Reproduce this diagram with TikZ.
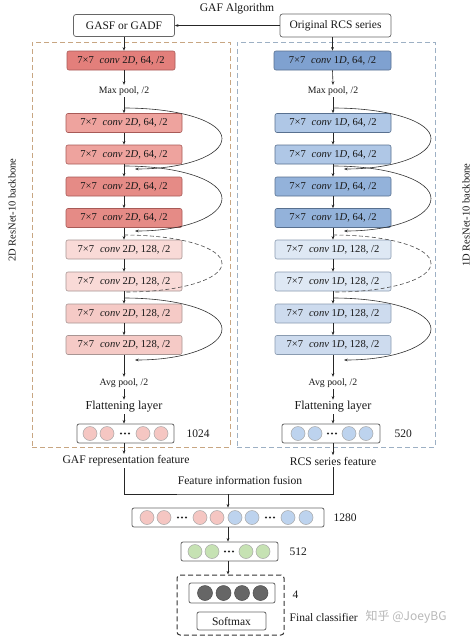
\documentclass[tikz,border=0pt]{standalone}
\usepackage{fontspec}
\setmainfont{Liberation Serif}
\newfontfamily\cjkfont{Noto Sans CJK SC}
\usetikzlibrary{arrows.meta}
\definecolor{lcA}{HTML}{E37F7B}
\definecolor{lcB}{HTML}{EEA39E}
\definecolor{lcC}{HTML}{E58B86}
\definecolor{lcD}{HTML}{F9DAD7}
\definecolor{lcE}{HTML}{F5CAC6}
\definecolor{ldraw}{HTML}{A85A57}
\definecolor{ldrawl}{HTML}{A89593}
\definecolor{rcA}{HTML}{7FA1D0}
\definecolor{rcB}{HTML}{AFC7E6}
\definecolor{rcC}{HTML}{93B2DA}
\definecolor{rcD}{HTML}{DEE8F4}
\definecolor{rcE}{HTML}{CDDBEE}
\definecolor{rdraw}{HTML}{58708F}
\definecolor{rdrawl}{HTML}{8A9BB0}
\definecolor{pinkc}{HTML}{F5C6C2}
\definecolor{bluec}{HTML}{BDD3EE}
\definecolor{greenc}{HTML}{C6E2B3}
\definecolor{darkc}{HTML}{666666}
\definecolor{lframec}{HTML}{C8A682}
\definecolor{rframec}{HTML}{9DB0C4}
\newcommand{\cvt}[3]{7×7\hspace{0.55em}\textit{conv}\space#1\textit{D}, #2, /2}
\begin{document}
\begin{tikzpicture}[x=1pt,y=-1pt,
  every node/.style={font=\fontsize{11.6}{13}\selectfont, inner sep=1.5pt, text=black!90},
  arr/.style={-{Stealth[length=3.6pt,width=2.8pt]}, line width=0.6pt, draw=black!85},
  skipline/.style={-{Stealth[length=3.6pt,width=2.8pt]}, line width=0.6pt, draw=black!80},
  dskip/.style={line width=0.6pt, draw=black!70, dash pattern=on 4pt off 2.5pt},
  wbox/.style={draw=black!60, line width=0.7pt, rounded corners=2.5pt, fill=white, font=\fontsize{11.5}{13}\selectfont, inner sep=0pt},
  cbox/.style={draw, line width=0.6pt, rounded corners=2pt, minimum width=116pt, minimum height=19pt, inner sep=0pt, font=\fontsize{10.6}{12}\selectfont},
  smalltxt/.style={font=\fontsize{9.8}{11}\selectfont},
  frame/.style={draw, line width=0.9pt, dash pattern=on 5pt off 3pt, minimum width=198pt, minimum height=405pt, inner sep=0pt},
  vbox/.style={draw=black!60, line width=0.8pt, rounded corners=2pt, minimum height=19pt, inner sep=0pt},
  cir/.style={circle, draw, line width=0.5pt, minimum size=14pt, inner sep=0pt},
  numtxt/.style={anchor=west, font=\fontsize{11.5}{13}\selectfont}
]
\fill[white] (0,0) rectangle (474,641);
\useasboundingbox (0,0) rectangle (474,641);

% frames
\node[frame, draw=lframec] (lframe) at (131,244.5) {};
\node[frame, draw=rframec] (rframe) at (336,244.5) {};
\node[rotate=90] (llab) at (12,210) {\fontsize{10.5}{12}\selectfont 2D ResNet-10 backbone};
\node[rotate=90] (rlab) at (466,215) {\fontsize{10.5}{12}\selectfont 1D ResNet-10 backbone};

% top
\node (gaft) at (237,9) {GAF Algorithm};
\node[wbox, minimum width=101pt, minimum height=22pt] (gasf) at (124,25.5) {GASF or GADF};
\node[wbox, minimum width=111pt, minimum height=23pt] (orig) at (335.5,25.5) {Original RCS series};
\draw[arr] (orig) -- (gasf);

% left column
\node[cbox, fill=lcA, draw=ldraw, minimum width=108pt] (L0) at (121,60.5) {\cvt{2}{64}{}};
\node[smalltxt] (lmp) at (124,91) {Max pool, /2};
\node[cbox, fill=lcB, draw=ldraw] (L1) at (124,123) {\cvt{2}{64}{}};
\node[cbox, fill=lcB, draw=ldraw] (L2) at (124,154.5) {\cvt{2}{64}{}};
\node[cbox, fill=lcC, draw=ldraw] (L3) at (124,186.5) {\cvt{2}{64}{}};
\node[cbox, fill=lcC, draw=ldraw] (L4) at (124,218) {\cvt{2}{64}{}};
\node[cbox, fill=lcD, draw=ldrawl] (L5) at (124,249.5) {\cvt{2}{128}{}};
\node[cbox, fill=lcD, draw=ldrawl] (L6) at (124,281.5) {\cvt{2}{128}{}};
\node[cbox, fill=lcE, draw=ldrawl] (L7) at (124,313.5) {\cvt{2}{128}{}};
\node[cbox, fill=lcE, draw=ldrawl] (L8) at (124,345) {\cvt{2}{128}{}};
\node[smalltxt] (lap) at (124,383) {Avg pool, /2};
\node[font=\fontsize{12.2}{14}\selectfont] (lfl) at (124,407) {Flattening layer};
\node[vbox, minimum width=97pt] (lvec) at (125.5,433.5) {};
\node[numtxt] (ln) at (185,433.5) {1024};
\node (lfeat) at (126,461) {GAF representation feature};

% right column
\node[cbox, fill=rcA, draw=rdraw, minimum width=117pt] (R0) at (332.5,60.5) {\cvt{1}{64}{}};
\node[smalltxt] (rmp) at (333,91) {Max pool, /2};
\node[cbox, fill=rcB, draw=rdraw] (R1) at (333,123) {\cvt{1}{64}{}};
\node[cbox, fill=rcB, draw=rdraw] (R2) at (333,154.5) {\cvt{1}{64}{}};
\node[cbox, fill=rcC, draw=rdraw] (R3) at (333,186.5) {\cvt{1}{64}{}};
\node[cbox, fill=rcC, draw=rdraw] (R4) at (333,218) {\cvt{1}{64}{}};
\node[cbox, fill=rcD, draw=rdrawl] (R5) at (333,249.5) {\cvt{1}{128}{}};
\node[cbox, fill=rcD, draw=rdrawl] (R6) at (333,281.5) {\cvt{1}{128}{}};
\node[cbox, fill=rcE, draw=rdrawl] (R7) at (333,313.5) {\cvt{1}{128}{}};
\node[cbox, fill=rcE, draw=rdrawl] (R8) at (333,345) {\cvt{1}{128}{}};
\node[smalltxt] (rap) at (333,383) {Avg pool, /2};
\node[font=\fontsize{12.2}{14}\selectfont] (rfl) at (333,407) {Flattening layer};
\node[vbox, minimum width=98pt] (rvec) at (331,433.5) {};
\node[numtxt] (rn) at (393,433.5) {520};
\node (rfeat) at (333,461) {RCS series feature};

% vertical arrows
\draw[arr] (gasf.south) -- (gasf.south |- L0.north);
\draw[arr] (lmp.north |- L0.south) -- (lmp.north);
\draw[arr] (orig.south -| R0) -- (R0.north);
\draw[arr] (R0.south) -- (rmp.north);
\draw[arr] (lmp.south) -- (L1.north);
\draw[arr] (rmp.south) -- (R1.north);
\foreach \c in {L,R} {
  \foreach \a/\b in {1/2,2/3,3/4,4/5,5/6,6/7,7/8} {
    \draw[arr] (\c\a) -- (\c\b);
  }
}
\draw[arr] (L8.south) -- (lap.north);
\draw[arr] (lap.south) -- (lfl.north);
\draw[arr] (lfl.south) -- (lfl.south |- lvec.north);
\draw[arr] (lvec.south -| lfl) -- (lfeat.north -| lfl);
\draw[arr] (R8.south) -- (rap.north);
\draw[arr] (rap.south) -- (rfl.north);
\draw[arr] (rfl.south) -- (rfl.south |- rvec.north);
\draw[arr] (rvec.south -| rfeat) -- (rfeat.north);

% skip connections
\foreach \dx/\s in {0/L,209/R} {
  \begin{scope}[xshift=\dx pt]
    \coordinate (\s sa) at (124,108);   \coordinate (\s ea) at (135,169);
    \coordinate (\s sb) at (124,166);   \coordinate (\s eb) at (135,231);
    \coordinate (\s sc) at (124,235);   \coordinate (\s ec) at (126,292);
    \coordinate (\s sd) at (124,298);   \coordinate (\s ed) at (135,360);
    \draw[skipline] (\s sa) .. controls (181,108) and (222,121.7) .. (222,138.5)
                            .. controls (222,155.3) and (185,169) .. (\s ea);
    \draw[skipline] (\s sb) .. controls (181,166) and (222,180.6) .. (222,198.5)
                            .. controls (222,216.4) and (185,231) .. (\s eb);
    \draw[dskip] (\s sc) .. controls (181,235) and (222,247.8) .. (222,263.5)
                         .. controls (222,279.2) and (181,292) .. (\s ec);
    \draw[skipline] (\s sd) .. controls (181,298) and (222,311.9) .. (222,329)
                            .. controls (222,346.1) and (185,360) .. (\s ed);
  \end{scope}
}

% vector circles
\foreach \x [count=\i] in {90,107,143,161} \node[cir, fill=pinkc, draw=black!35] (lc\i) at (\x,433.5) {};
\foreach \x in {121,125,129} \fill[black!85] (\x,433.5) circle (1.2pt);
\foreach \x [count=\i] in {298,315,349,366} \node[cir, fill=bluec, draw=black!35] (rc\i) at (\x,433.5) {};
\foreach \x in {328,332,336} \fill[black!85] (\x,433.5) circle (1.2pt);

% fusion
\node (fuse) at (240,480) {Feature information fusion};
\coordinate (fj) at (228,494);
\draw[line width=0.7pt, black!85] (lfeat.south -| lfl) |- (fj) -| (rfeat.south);
\node[vbox, minimum width=192pt] (fused) at (228,517.5) {};
\draw[arr] (fj) -- (fused.north);
\node[numtxt] (fn) at (332,517.5) {1280};
\foreach \x [count=\i] in {147,164,200,217} \node[cir, fill=pinkc, draw=black!35] (fp\i) at (\x,517.5) {};
\foreach \x [count=\i] in {235,252,288,306} \node[cir, fill=bluec, draw=black!35] (fb\i) at (\x,517.5) {};
\foreach \x in {178,182,186,266,270,274} \fill[black!85] (\x,517.5) circle (1.2pt);

\node[vbox, minimum width=97pt] (green) at (229.5,551.5) {};
\node[numtxt] (gn) at (288,551.5) {512};
\foreach \x [count=\i] in {195,212,246,263} \node[cir, fill=greenc, draw=black!35] (gc\i) at (\x,551.5) {};
\foreach \x in {225,229,233} \fill[black!85] (\x,551.5) circle (1.2pt);
\draw[arr] (fused.south) -- (fused.south |- green.north);

% final classifier
\node[draw=black!80, line width=1pt, dash pattern=on 5pt off 3pt, rounded corners=3pt, minimum width=107pt, minimum height=60pt, inner sep=0pt] (fin) at (230.5,605) {};
\draw[arr] (green.south -| fused.south) -- (fin.north -| fused.south);
\node[vbox, minimum width=86pt, minimum height=20pt] (dbox) at (232,593) {};
\foreach \x [count=\i] in {205,223.5,242,260.5} \node[cir, fill=darkc, draw=black!70, minimum size=15pt] (dc\i) at (\x,593) {};
\node[numtxt] (dn) at (291,595) {4};
\node[vbox, minimum width=69pt, minimum height=18pt, font=\fontsize{11.5}{13}\selectfont] (soft) at (231.5,621) {Softmax};
\node[numtxt] (fcl) at (288,617) {Final classifier};
\node[anchor=west, text=black!28, font=\cjkfont\fontsize{12}{14}\selectfont] (wm) at (364,617) {知乎 @JoeyBG};
\end{tikzpicture}
\end{document}
